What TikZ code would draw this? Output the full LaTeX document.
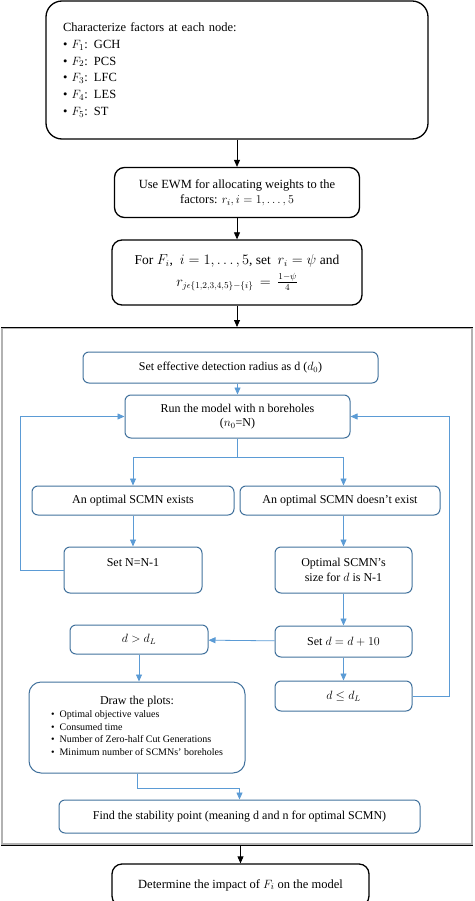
\documentclass[tikz,border=0pt]{standalone}
\usepackage{amsmath,amssymb}
\usepackage{fontspec}
\setmainfont{Liberation Serif}
\usetikzlibrary{arrows.meta}
\definecolor{boxblue}{HTML}{41719C}
\definecolor{arrblue}{HTML}{5B9BD5}

\begin{document}
\begin{tikzpicture}[x=1pt, y=-1pt,
  box/.style={draw, line width=1.3pt, rounded corners=10pt, align=center, font=\fontsize{12.5}{15}\selectfont, inner sep=2pt},
  bbox/.style={draw=boxblue, line width=1pt, rounded corners=6pt, align=center, font=\fontsize{12}{14.5}\selectfont, inner sep=2pt},
  arr/.style={-{Triangle[length=7pt,width=6pt]}, line width=0.8pt},
  barr/.style={arr, arrblue}]
\useasboundingbox (0,0) rectangle (474,901);
% outer steps
\node[box, rounded corners=16pt, minimum width=382pt, minimum height=138pt, text width=348pt, align=left,
  font=\fontsize{12.5}{16.7}\selectfont] (f1) at (237,70)
  {Characterize factors at each node:\\
   \textbullet\ $F_1$: GCH\\
   \textbullet\ $F_2$: PCS\\
   \textbullet\ $F_3$: LFC\\
   \textbullet\ $F_4$: LES\\
   \textbullet\ $F_5$: ST};
\node[box, minimum width=245pt, minimum height=50pt] (b2) at (237,192.5)
  {Use EWM for allocating weights to the\\factors: $r_i, i = 1, \ldots, 5$};
\node[box, minimum width=250pt, minimum height=65pt, font=\fontsize{13.5}{17}\selectfont] (b3) at (237,272.5)
  {For $F_i$,\ \ $i = 1, \ldots, 5$,\ set\ \ $r_i = \psi$ and\\[5pt]
   $r_{j\epsilon\{1,2,3,4,5\}-\{i\}} \,=\, \frac{1-\psi}{4}$};
\node[draw=gray!60, line width=2pt, minimum width=470pt, minimum height=516pt, inner sep=0pt] (fr) at (237,586) {};
\draw[line width=0.8pt] (fr.north west) -- (fr.north east);
\draw[line width=0.8pt] (fr.south west) -- (fr.south east);
\node[box, minimum width=257pt, minimum height=42pt] (f8) at (240.5,885)
  {Determine the impact of $F_i$ on the model};
\foreach \a/\b in {f1/b2,b2/b3} \draw[arr] (\a) -- (\b);
\draw[arr] (b3) -- (fr.north);
\draw[arr] (f8.north |- fr.south) -- (f8.north);
% inner loop
\node[bbox, minimum width=295pt, minimum height=31pt] (s1) at (230.5,367.5) {Set effective detection radius as d ($d_0$)};
\node[bbox, minimum width=225pt, minimum height=43pt] (s2) at (237.5,416.5) {Run the model with n boreholes\\($n_0$=N)};
\node[bbox, minimum width=202pt, minimum height=29pt] (s3) at (133,500.5) {An optimal SCMN exists};
\node[bbox, minimum width=200pt, minimum height=29pt] (s4) at (340,500.5) {An optimal SCMN doesn't exist};
\node[bbox, minimum width=138pt, minimum height=46pt] (s5) at (133,570) {Set N=N-1\\~};
\node[bbox, minimum width=137pt, minimum height=46pt] (s6) at (343.5,570) {Optimal SCMN's\\size for $d$ is N-1};
\node[bbox, minimum width=137pt, minimum height=31pt] (s7) at (343.5,641.5) {Set $d = d + 10$};
\node[bbox, minimum width=138pt, minimum height=29pt] (s8) at (139,639.5) {$d > d_L$};
\node[bbox, minimum width=137pt, minimum height=30pt] (s9) at (343.5,696) {$d \leq d_L$};
\node[bbox, rounded corners=12pt, minimum width=216pt, minimum height=91pt] (s10) at (137,727.5)
  {Draw the plots:\\[1pt]
   {\fontsize{10}{12.5}\selectfont\begin{tabular}{@{}l@{}}
   \textbullet\enspace Optimal objective values\\
   \textbullet\enspace Consumed time\\
   \textbullet\enspace Number of Zero-half Cut Generations\\
   \textbullet\enspace Minimum number of SCMNs' boreholes
   \end{tabular}}};
\node[bbox, minimum width=361pt, minimum height=33pt] (s11) at (239.5,816.5)
  {Find the stability point (meaning d and n for optimal SCMN)};
\draw[barr] (s1.south -| s2) -- (s2.north);
\draw[barr] (s2.south) -- ++(0,19) -| (s3.north);
\draw[barr] (s2.south) -- ++(0,19) -| (s6.north |- s4.north);
\draw[barr] (s3) -- (s5);
\draw[barr] (s6.north |- s4.south) -- (s6.north);
\foreach \a/\b in {s6/s7,s7/s9,s7/s8} \draw[barr] (\a) -- (\b);
\draw[barr] (s5.west) -- ++(-43,0) |- (s2.west);
\draw[barr] (s9.east) -- ++(37,0) |- (s2.east);
\draw[barr] (s8.south) -- (s8.south |- s10.north);
\draw[barr] (s10.south) -- ++(0,15) -| (s11.north);
\end{tikzpicture}
\end{document}
